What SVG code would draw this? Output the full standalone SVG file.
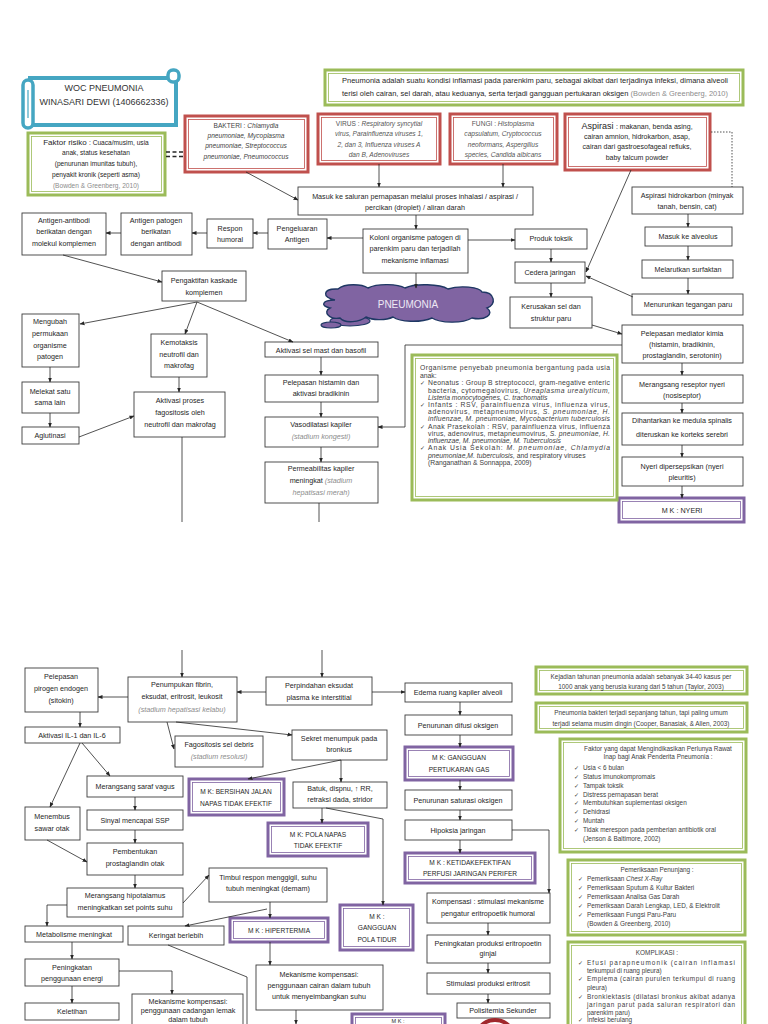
<svg xmlns="http://www.w3.org/2000/svg" width="768" height="1024" viewBox="0 0 768 1024">
<defs>
<style>
.n{fill:#fff;stroke:#3c3c3c;stroke-width:0.9}
.t{font-family:"Liberation Sans",Arial,"DejaVu Sans",sans-serif;font-size:7.2px;fill:#262626;text-anchor:middle}
.st{text-anchor:start}
.sm{font-size:6.6px}
.g{fill:#8c8c8c;font-style:italic}
.gr{fill:#8c8c8c}
.it{font-style:italic}
.l{fill:none;stroke:#262626;stroke-width:0.8}
.a{marker-end:url(#ah)}
.ro{fill:#fff;stroke:#C0504D;stroke-width:3}
.ri{fill:none;stroke:#C0504D;stroke-width:0.8}
.go{fill:#fff;stroke:#9BBB59;stroke-width:3}
.gi{fill:none;stroke:#9BBB59;stroke-width:0.8}
.po{fill:#fff;stroke:#8064A2;stroke-width:3}
.pi{fill:none;stroke:#8064A2;stroke-width:0.8}
.c{font-family:"Liberation Sans",Arial,"DejaVu Sans",sans-serif;font-size:6.4px;fill:#404040}
.o{font-size:6.8px}
.ck{font-family:"DejaVu Sans",sans-serif;font-size:6px;fill:#404040}
</style>
<marker id="ah" viewBox="0 0 10 10" refX="9" refY="5" markerWidth="5" markerHeight="5" markerUnits="userSpaceOnUse" orient="auto"><path d="M0,1 L10,5 L0,9 z" fill="#262626"/></marker>
</defs>
<rect width="768" height="1024" fill="#fff"/>

<g id="title">
<rect x="30" y="78" width="146" height="47" fill="#fff" stroke="#45A6C2" stroke-width="4"/>
<rect x="168" y="70" width="11" height="12" rx="5" fill="#fff" stroke="#45A6C2" stroke-width="3.5"/>
<rect x="23" y="80" width="10" height="48" rx="5" fill="#fff" stroke="#45A6C2" stroke-width="3.5"/>
<line x1="28" y1="90" x2="28" y2="118" stroke="#45A6C2" stroke-width="1.2"/>
<text class="t" x="104" y="91" style="font-size:9px;fill:#333">WOC PNEUMONIA</text>
<text class="t" x="104" y="105" style="font-size:9px;fill:#333">WINASARI DEWI (1406662336)</text>
</g>

<g id="faktor-risiko">
<rect class="go" x="28" y="133" width="137" height="62"/><rect class="gi" x="31.5" y="136.5" width="130" height="55"/>
<text class="t sm" x="96"><tspan x="96" y="145"><tspan style="font-size:8px">Faktor risiko </tspan>: Cuaca/musim, usia</tspan><tspan x="96" y="155">anak, status kesehatan</tspan><tspan x="96" y="166">(penurunan imunitas tubuh),</tspan><tspan x="96" y="177">penyakit kronik (seperti asma)</tspan><tspan x="96" y="188" class="gr">(Bowden &amp; Greenberg, 2010)</tspan></text>
</g>

<g id="definisi">
<rect class="go" x="325" y="70" width="418" height="35"/><rect class="gi" x="328.5" y="73.5" width="411" height="28"/>
<text class="t st" x="342" y="83" textLength="386" lengthAdjust="spacingAndGlyphs">Pneumonia adalah suatu kondisi inflamasi pada parenkim paru, sebagai akibat dari terjadinya infeksi, dimana alveoli</text>
<text class="t st" x="342" y="96" textLength="386" lengthAdjust="spacingAndGlyphs">terisi oleh cairan, sel darah, atau keduanya, serta terjadi gangguan pertukaran oksigen <tspan class="gr">(Bowden &amp; Greenberg, 2010)</tspan></text>
</g>

<g id="bakteri">
<rect class="ro" x="185" y="116" width="123" height="56"/><rect class="ri" x="188.5" y="119.5" width="116" height="49"/>
<text class="t sm" style="fill:#444"><tspan x="246" y="128">BAKTERI : <tspan class="it">Chlamydia</tspan></tspan><tspan x="246" y="138" class="it">pneumoniae, Mycoplasma</tspan><tspan x="246" y="148" class="it">pneumoniae, Streptococcus</tspan><tspan x="246" y="159" class="it">pneumoniae, Pneumococcus</tspan></text>
</g>

<g id="virus">
<rect class="ro" x="318" y="114" width="122" height="50"/><rect class="ri" x="321.5" y="117.5" width="115" height="43"/>
<text class="t sm" style="fill:#555"><tspan x="379" y="126">VIRUS : <tspan class="it">Respiratory syncytial</tspan></tspan><tspan x="379" y="136" class="it">virus, Parainfluenza viruses 1,</tspan><tspan x="379" y="147" class="it">2, dan 3, Influenza viruses A</tspan><tspan x="379" y="157" class="it">dan B, Adenoviruses</tspan></text>
</g>

<g id="fungi">
<rect class="ro" x="450" y="114" width="107" height="50"/><rect class="ri" x="453.5" y="117.5" width="100" height="43"/>
<text class="t sm" style="fill:#555"><tspan x="503" y="126">FUNGI : <tspan class="it">Histoplasma</tspan></tspan><tspan x="503" y="136" class="it">capsulatum, Cryptococcus</tspan><tspan x="503" y="147" class="it">neoformans, Aspergillus</tspan><tspan x="503" y="157" class="it">species, Candida albicans</tspan></text>
</g>

<g id="aspirasi">
<rect class="ro" x="565" y="114" width="145" height="56"/><rect class="ri" x="568.5" y="117.5" width="138" height="49"/>
<text class="t" style="font-size:7px"><tspan x="637" y="129"><tspan style="font-size:9px">Aspirasi </tspan>: makanan, benda asing,</tspan><tspan x="637" y="139">cairan amnion, hidrokarbon, asap,</tspan><tspan x="637" y="149">cairan dari gastroesofageal refluks,</tspan><tspan x="637" y="160">baby talcum powder</tspan></text>
</g>

<g id="masuk-saluran"><rect class="n" x="298" y="187" width="235" height="28"/>
<text class="t"><tspan x="415" y="199">Masuk ke saluran pernapasan melalui proses inhalasi / aspirasi /</tspan><tspan x="415" y="210">percikan (droplet) / aliran darah</tspan></text></g>

<g id="aspirasi-hidrokarbon"><rect class="n" x="632" y="187" width="111" height="27"/>
<text class="t"><tspan x="687" y="198">Aspirasi hidrokarbon (minyak</tspan><tspan x="687" y="209">tanah, bensin, cat)</tspan></text></g>

<g id="koloni"><rect class="n" x="363" y="229" width="105" height="44"/>
<text class="t"><tspan x="415" y="240">Koloni organisme patogen di</tspan><tspan x="415" y="251">parenkim paru dan terjadilah</tspan><tspan x="415" y="263">mekanisme inflamasi</tspan></text></g>

<g id="pengeluaran-antigen"><rect class="n" x="268" y="219" width="59" height="30"/>
<text class="t"><tspan x="297" y="231">Pengeluaran</tspan><tspan x="297" y="242">Antigen</tspan></text></g>

<g id="respon-humoral"><rect class="n" x="207" y="219" width="46" height="29"/>
<text class="t"><tspan x="230" y="231">Respon</tspan><tspan x="230" y="242">humoral</tspan></text></g>

<g id="antigen-patogen"><rect class="n" x="121" y="213" width="71" height="42"/>
<text class="t"><tspan x="156" y="223">Antigen patogen</tspan><tspan x="156" y="234">berikatan</tspan><tspan x="156" y="246">dengan antibodi</tspan></text></g>

<g id="antigen-antibodi"><rect class="n" x="22" y="213" width="84" height="42"/>
<text class="t"><tspan x="64" y="223">Antigen-antibodi</tspan><tspan x="64" y="234">berikatan dengan</tspan><tspan x="64" y="246">molekul komplemen</tspan></text></g>

<g id="produk-toksik"><rect class="n" x="515" y="229" width="72" height="20"/>
<text class="t" x="551" y="241">Produk toksik</text></g>

<g id="cedera"><rect class="n" x="515" y="262" width="70" height="21"/>
<text class="t" x="550" y="275">Cedera jaringan</text></g>

<g id="kerusakan"><rect class="n" x="510" y="297" width="82" height="31"/>
<text class="t"><tspan x="551" y="309">Kerusakan sel dan</tspan><tspan x="551" y="321">struktur paru</tspan></text></g>

<g id="alveolus"><rect class="n" x="645" y="227" width="87" height="19"/>
<text class="t" x="688" y="239">Masuk ke alveolus</text></g>

<g id="surfaktan"><rect class="n" x="642" y="260" width="91" height="18"/>
<text class="t" x="688" y="272">Melarutkan surfaktan</text></g>

<g id="tegangan"><rect class="n" x="632" y="294" width="111" height="21"/>
<text class="t" x="688" y="307">Menurunkan tegangan paru</text></g>

<g id="mediator"><rect class="n" x="622" y="325" width="121" height="38"/>
<text class="t"><tspan x="682" y="336">Pelepasan mediator kimia</tspan><tspan x="682" y="347">(histamin, bradikinin,</tspan><tspan x="682" y="358">prostaglandin, serotonin)</tspan></text></g>

<g id="reseptor"><rect class="n" x="622" y="375" width="121" height="28"/>
<text class="t"><tspan x="682" y="387">Merangsang reseptor nyeri</tspan><tspan x="682" y="398">(nosiseptor)</tspan></text></g>

<g id="dihantarkan"><rect class="n" x="622" y="413" width="121" height="32"/>
<text class="t"><tspan x="682" y="423">Dihantarkan ke medula spinalis</tspan><tspan x="682" y="437">diteruskan ke korteks serebri</tspan></text></g>

<g id="nyeri"><rect class="n" x="622" y="457" width="121" height="29"/>
<text class="t"><tspan x="682" y="469">Nyeri dipersepsikan (nyeri</tspan><tspan x="682" y="480">pleuritis)</tspan></text></g>

<g id="mk-nyeri">
<rect class="po" x="619" y="498" width="125" height="24"/><rect class="pi" x="622.5" y="501.5" width="118" height="17"/>
<text class="t" x="682" y="513">M K : NYERI</text></g>

<g id="pneumonia">
<ellipse cx="350" cy="321" rx="20" ry="5" fill="#8064A2" stroke="#1F3864" stroke-width="1.2"/>
<ellipse cx="331" cy="325" rx="10" ry="3" fill="#8064A2" stroke="#1F3864" stroke-width="1.2"/>
<path d="M335,300 C322,298 322,288 338,289 C345,283 362,284 368,288 C378,283 398,284 405,288 C415,283 440,284 448,289 C460,285 480,287 482,292 C495,292 497,305 487,308 C495,314 485,321 472,318 C462,324 440,323 432,318 C420,323 400,322 393,317 C385,321 372,320 366,317 C360,322 345,324 340,318 C330,320 322,312 330,308 C320,306 322,300 335,300 Z" fill="#8064A2" stroke="#1F3864" stroke-width="1.4"/>
<text class="t" x="408" y="308" style="font-size:10px;fill:#EEE8F5">PNEUMONIA</text>
</g>

<g id="pengaktifan"><rect class="n" x="162" y="271" width="84" height="30"/>
<text class="t"><tspan x="204" y="283">Pengaktifan kaskade</tspan><tspan x="204" y="295">komplemen</tspan></text></g>

<g id="mengubah"><rect class="n" x="22" y="314" width="57" height="53"/>
<text class="t"><tspan x="50" y="324">Mengubah</tspan><tspan x="50" y="336">permukaan</tspan><tspan x="50" y="348">organisme</tspan><tspan x="50" y="359">patogen</tspan></text></g>

<g id="melekat"><rect class="n" x="22" y="382" width="57" height="31"/>
<text class="t"><tspan x="50" y="394">Melekat satu</tspan><tspan x="50" y="405">sama lain</tspan></text></g>

<g id="aglutinasi"><rect class="n" x="22" y="427" width="57" height="17"/>
<text class="t" x="50" y="438">Aglutinasi</text></g>

<g id="kemotaksis"><rect class="n" x="151" y="334" width="56" height="43"/>
<text class="t"><tspan x="179" y="345">Kemotaksis</tspan><tspan x="179" y="357">neutrofil dan</tspan><tspan x="179" y="368">makrofag</tspan></text></g>

<g id="fagositosis"><rect class="n" x="134" y="392" width="91" height="45"/>
<text class="t"><tspan x="180" y="403">Aktivasi proses</tspan><tspan x="180" y="415">fagositosis oleh</tspan><tspan x="180" y="427">neutrofil dan makrofag</tspan></text></g>

<g id="sel-mast"><rect class="n" x="265" y="342" width="113" height="15"/>
<text class="t" x="321" y="352.5">Aktivasi sel mast dan basofil</text></g>

<g id="histamin"><rect class="n" x="265" y="375" width="113" height="27"/>
<text class="t"><tspan x="321" y="385">Pelepasan histamin dan</tspan><tspan x="321" y="396">aktivasi bradikinin</tspan></text></g>

<g id="vasodilatasi"><rect class="n" x="265" y="417" width="113" height="30"/>
<text class="t"><tspan x="321" y="427">Vasodilatasi kapiler</tspan><tspan x="321" y="439" class="g">(stadium kongesti)</tspan></text></g>

<g id="permeabilitas"><rect class="n" x="265" y="462" width="113" height="41"/>
<text class="t"><tspan x="321" y="471">Permeabilitas kapiler</tspan><tspan x="321" y="483">meningkat <tspan class="g">(stadium</tspan></tspan><tspan x="321" y="495" class="g">hepatisasi merah)</tspan></text></g>

<g id="organisme">
<rect class="go" x="412" y="355" width="205" height="145"/><rect class="gi" x="415.5" y="358.5" width="198" height="138"/>
<text class="c o" x="420" y="370" textLength="190" lengthAdjust="spacing">Organisme penyebab pneumonia bergantung pada usia</text>
<text class="c o" x="420" y="378">anak:</text>
<text class="ck" x="420" y="385">✓</text>
<text class="c o" x="428" y="385" textLength="182" lengthAdjust="spacing">Neonatus : Group B streptococci, gram-negative enteric</text>
<text class="c o" x="428" y="393" textLength="182" lengthAdjust="spacing">bacteria, cytomegalovirus, <tspan class="it">Ureaplasma urealyticum,</tspan></text>
<text class="c o it" x="428" y="400">Listeria monocytogenes, C. trachomatis</text>
<text class="ck" x="420" y="407">✓</text>
<text class="c o" x="428" y="407" textLength="182" lengthAdjust="spacing">Infants : RSV, parainfluenza virus, influenza virus,</text>
<text class="c o" x="428" y="414" textLength="182" lengthAdjust="spacing">adenovirus, metapneumovirus, <tspan class="it">S. pneumoniae, H.</tspan></text>
<text class="c o it" x="428" y="421" textLength="182" lengthAdjust="spacing">influenzae, M. pneumoniae, Mycobacterium tuberculosis</text>
<text class="ck" x="420" y="429">✓</text>
<text class="c o" x="428" y="429" textLength="182" lengthAdjust="spacing">Anak Prasekolah : RSV, parainfluenza virus, influenza</text>
<text class="c o" x="428" y="436" textLength="182" lengthAdjust="spacing">virus, adenovirus, metapneumovirus, <tspan class="it">S. pneumoniae, H.</tspan></text>
<text class="c o it" x="428" y="443">influenzae, M. pneumoniae, M. Tuberculosis</text>
<text class="ck" x="420" y="450">✓</text>
<text class="c o" x="428" y="450" textLength="182" lengthAdjust="spacing">Anak Usia Sekolah: <tspan class="it">M. pneumoniae, Chlamydia</tspan></text>
<text class="c o" x="428" y="458"><tspan class="it">pneumoniae,M. tuberculosis,</tspan> and respiratory viruses</text>
<text class="c o" x="428" y="465">(Ranganathan &amp; Sonnappa, 2009)</text>
</g>

<!-- bottom page -->
<g id="pirogen"><rect class="n" x="25" y="668" width="73" height="44"/>
<text class="t"><tspan x="61" y="679">Pelepasan</tspan><tspan x="61" y="691">pirogen endogen</tspan><tspan x="61" y="703">(sitokin)</tspan></text></g>

<g id="penumpukan"><rect class="n" x="128" y="677" width="109" height="45"/>
<text class="t"><tspan x="182" y="687">Penumpukan fibrin,</tspan><tspan x="182" y="699">eksudat, eritrosit, leukosit</tspan><tspan x="182" y="712" class="g">(stadium hepatisasi kelabu)</tspan></text></g>

<g id="il"><rect class="n" x="25" y="727" width="95" height="16"/>
<text class="t" x="72" y="738">Aktivasi IL-1 dan IL-6</text></g>

<g id="debris"><rect class="n" x="175" y="736" width="88" height="31"/>
<text class="t"><tspan x="219" y="747">Fagositosis sel debris</tspan><tspan x="219" y="759" class="g">(stadium resolusi)</tspan></text></g>

<g id="vagus"><rect class="n" x="87" y="776" width="96" height="21"/>
<text class="t" x="135" y="789">Merangsang saraf vagus</text></g>

<g id="ssp"><rect class="n" x="87" y="810" width="96" height="20"/>
<text class="t" x="135" y="823">Sinyal mencapai SSP</text></g>

<g id="sawar"><rect class="n" x="25" y="807" width="55" height="33"/>
<text class="t"><tspan x="52" y="819">Menembus</tspan><tspan x="52" y="831">sawar otak</tspan></text></g>

<g id="mk-bersihan">
<rect class="po" x="189" y="779" width="95" height="36"/><rect class="pi" x="192.5" y="782.5" width="88" height="29"/>
<text class="t sm"><tspan x="236" y="794">M K: BERSIHAN JALAN</tspan><tspan x="236" y="806">NAPAS TIDAK EFEKTIF</tspan></text></g>

<g id="perpindahan"><rect class="n" x="266" y="677" width="106" height="28"/>
<text class="t"><tspan x="319" y="688">Perpindahan eksudat</tspan><tspan x="319" y="700">plasma ke interstitial</tspan></text></g>

<g id="edema"><rect class="n" x="405" y="683" width="107" height="19"/>
<text class="t" x="458" y="695">Edema ruang kapiler alveoli</text></g>

<g id="difusi"><rect class="n" x="405" y="715" width="107" height="20"/>
<text class="t" x="458" y="728">Penurunan difusi oksigen</text></g>

<g id="mk-gas">
<rect class="po" x="405" y="747" width="108" height="33"/><rect class="pi" x="408.5" y="750.5" width="101" height="26"/>
<text class="t sm"><tspan x="459" y="760">M K: GANGGUAN</tspan><tspan x="459" y="772">PERTUKARAN GAS</tspan></text></g>

<g id="saturasi"><rect class="n" x="405" y="790" width="107" height="20"/>
<text class="t" x="458" y="803">Penurunan saturasi oksigen</text></g>

<g id="hipoksia"><rect class="n" x="405" y="820" width="107" height="20"/>
<text class="t" x="458" y="833">Hipoksia jaringan</text></g>

<g id="sekret"><rect class="n" x="292" y="730" width="95" height="30"/>
<text class="t"><tspan x="339" y="741">Sekret menumpuk pada</tspan><tspan x="339" y="752">bronkus</tspan></text></g>

<g id="batuk"><rect class="n" x="293" y="782" width="94" height="26"/>
<text class="t"><tspan x="340" y="791">Batuk, dispnu, ↑ RR,</tspan><tspan x="340" y="802">retraksi dada, stridor</tspan></text></g>

<g id="mk-pola-napas">
<rect class="po" x="268" y="823" width="100" height="33"/><rect class="pi" x="271.5" y="826.5" width="93" height="26"/>
<text class="t sm"><tspan x="318" y="837">M K: POLA NAPAS</tspan><tspan x="318" y="848">TIDAK EFEKTIF</tspan></text></g>

<g id="mk-pola-tidur">
<rect class="po" x="340" y="905" width="73" height="45"/><rect class="pi" x="343.5" y="908.5" width="66" height="38"/>
<text class="t sm"><tspan x="377" y="919">M K :</tspan><tspan x="377" y="930">GANGGUAN</tspan><tspan x="377" y="942">POLA TIDUR</tspan></text></g>

<g id="kejadian">
<rect class="go" x="536" y="667" width="211" height="27"/><rect class="gi" x="539.5" y="670.5" width="204" height="20"/>
<text class="c" style="text-anchor:middle"><tspan x="641" y="679">Kejadian tahunan pneumonia adalah sebanyak 34-40 kasus per</tspan><tspan x="641" y="689">1000 anak yang berusia kurang dari 5 tahun  (Taylor, 2003)</tspan></text></g>

<g id="bakteri-musim">
<rect class="go" x="536" y="703" width="211" height="29"/><rect class="gi" x="539.5" y="706.5" width="204" height="22"/>
<text class="c" style="text-anchor:middle"><tspan x="641" y="715">Pneumonia bakteri terjadi sepanjang tahun, tapi paling umum</tspan><tspan x="641" y="726">terjadi selama musim dingin (Cooper, Banasiak, &amp; Allen, 2003)</tspan></text></g>

<g id="rawat-inap">
<rect class="go" x="560" y="739" width="186" height="113"/><rect class="gi" x="563.5" y="742.5" width="179" height="106"/>
<text class="c" style="text-anchor:middle"><tspan x="658" y="751">Faktor yang dapat Mengindikasikan Perlunya Rawat</tspan><tspan x="658" y="759">Inap bagi Anak Penderita Pneumonia :</tspan></text>
<text class="ck"><tspan x="574" y="770">✓</tspan><tspan x="574" y="779">✓</tspan><tspan x="574" y="788">✓</tspan><tspan x="574" y="797">✓</tspan><tspan x="574" y="805">✓</tspan><tspan x="574" y="814">✓</tspan><tspan x="574" y="823">✓</tspan><tspan x="574" y="832">✓</tspan></text>
<text class="c"><tspan x="583" y="770">Usia &lt; 6 bulan</tspan><tspan x="583" y="779">Status imunokompromais</tspan><tspan x="583" y="788">Tampak toksik</tspan><tspan x="583" y="797">Distress pernapasan berat</tspan><tspan x="583" y="805">Membutuhkan suplementasi oksigen</tspan><tspan x="583" y="814">Dehidrasi</tspan><tspan x="583" y="823">Muntah</tspan><tspan x="583" y="832">Tidak merespon pada pemberian antibiotik oral</tspan><tspan x="583" y="841">(Jenson &amp; Baltimore, 2002)</tspan></text>
</g>

<g id="penunjang">
<rect class="go" x="568" y="860" width="177" height="75"/><rect class="gi" x="571.5" y="863.5" width="170" height="68"/>
<text class="c" style="text-anchor:middle" x="657" y="872">Pemeriksaan Penunjang :</text>
<text class="ck"><tspan x="578" y="881">✓</tspan><tspan x="578" y="890">✓</tspan><tspan x="578" y="899">✓</tspan><tspan x="578" y="908">✓</tspan><tspan x="578" y="917">✓</tspan></text>
<text class="c"><tspan x="587" y="881">Pemeriksaan <tspan class="it">Chest X-Ray</tspan></tspan><tspan x="587" y="890">Pemeriksaan Sputum &amp; Kultur Bakteri</tspan><tspan x="587" y="899">Pemeriksaan Analisa Gas Darah</tspan><tspan x="587" y="908">Pemeriksaan Darah Lengkap, LED, &amp; Elektrolit</tspan><tspan x="587" y="917">Pemeriksaan Fungsi Paru-Paru</tspan><tspan x="587" y="926">(Bowden &amp; Greenberg, 2010)</tspan></text>
</g>

<g id="komplikasi">
<rect class="go" x="568" y="942" width="177" height="95"/><rect class="gi" x="571.5" y="945.5" width="170" height="88"/>
<text class="c" style="text-anchor:middle" x="657" y="955">KOMPLIKASI :</text>
<text class="ck"><tspan x="578" y="965">✓</tspan><tspan x="578" y="981">✓</tspan><tspan x="578" y="999">✓</tspan><tspan x="578" y="1022">✓</tspan></text>
<text class="c" x="587" y="965" textLength="148" lengthAdjust="spacing">Efusi parapneumonik (cairan inflamasi</text>
<text class="c" x="587" y="973">terkumpul di ruang pleura)</text>
<text class="c" x="587" y="981" textLength="148" lengthAdjust="spacing">Empiema (cairan purulen terkumpul di ruang</text>
<text class="c" x="587" y="990">pleura)</text>
<text class="c" x="587" y="999" textLength="148" lengthAdjust="spacing">Bronkiektasis (dilatasi bronkus akibat adanya</text>
<text class="c" x="587" y="1007" textLength="148" lengthAdjust="spacing">jaringan parut pada saluran respiratori dan</text>
<text class="c" x="587" y="1015">parenkim paru)</text>
<text class="c" x="587" y="1022">Infeksi berulang</text>
</g>

<g id="pembentukan"><rect class="n" x="87" y="843" width="96" height="32"/>
<text class="t"><tspan x="135" y="854">Pembentukan</tspan><tspan x="135" y="866">prostaglandin otak</tspan></text></g>

<g id="hipotalamus"><rect class="n" x="67" y="888" width="116" height="29"/>
<text class="t"><tspan x="125" y="898">Merangsang hipotalamus</tspan><tspan x="125" y="910">meningkatkan set points suhu</tspan></text></g>

<g id="demam"><rect class="n" x="209" y="868" width="118" height="34"/>
<text class="t"><tspan x="268" y="880">Timbul respon menggigil, suhu</tspan><tspan x="268" y="891">tubuh meningkat (demam)</tspan></text></g>

<g id="metabolisme"><rect class="n" x="25" y="926" width="98" height="16"/>
<text class="t" x="74" y="937">Metabolisme meningkat</text></g>

<g id="keringat"><rect class="n" x="128" y="926" width="96" height="19"/>
<text class="t" x="176" y="938">Keringat berlebih</text></g>

<g id="mk-hipertermia">
<rect class="po" x="230" y="918" width="98" height="24"/><rect class="pi" x="233.5" y="921.5" width="91" height="17"/>
<text class="t sm" x="279" y="933">M K : HIPERTERMIA</text></g>

<g id="kompensasi-cairan"><rect class="n" x="256" y="965" width="127" height="45"/>
<text class="t"><tspan x="319" y="977">Mekanisme kompensasi:</tspan><tspan x="319" y="988">penggunaan cairan dalam tubuh</tspan><tspan x="319" y="999">untuk menyeimbangkan suhu</tspan></text></g>

<g id="energi"><rect class="n" x="25" y="959" width="94" height="27"/>
<text class="t"><tspan x="72" y="970">Peningkatan</tspan><tspan x="72" y="981">penggunaan energi</tspan></text></g>

<g id="keletihan"><rect class="n" x="25" y="1003" width="94" height="17"/>
<text class="t" x="72" y="1014">Keletihan</text></g>

<g id="kompensasi-lemak"><rect class="n" x="132" y="994" width="111" height="40"/>
<text class="t"><tspan x="188" y="1004">Mekanisme kompensasi:</tspan><tspan x="188" y="1013">penggunaan cadangan lemak</tspan><tspan x="188" y="1022">dalam tubuh</tspan></text></g>

<g id="mk-perfusi">
<rect class="po" x="405" y="853" width="130" height="30"/><rect class="pi" x="408.5" y="856.5" width="123" height="23"/>
<text class="t sm"><tspan x="470" y="865">M K : KETIDAKEFEKTIFAN</tspan><tspan x="470" y="876">PERFUSI JARINGAN PERIFER</tspan></text></g>

<g id="kompensasi-eritro"><rect class="n" x="427" y="893" width="123" height="30"/>
<text class="t"><tspan x="488" y="904">Kompensasi : stimulasi mekanisme</tspan><tspan x="488" y="916">pengatur eritropoetik humoral</tspan></text></g>

<g id="eritropoetin"><rect class="n" x="427" y="935" width="123" height="28"/>
<text class="t"><tspan x="488" y="946">Peningkatan produksi eritropoetin</tspan><tspan x="488" y="956">ginjal</tspan></text></g>

<g id="eritrosit"><rect class="n" x="427" y="973" width="123" height="21"/>
<text class="t" x="488" y="986">Stimulasi produksi eritrosit</text></g>

<g id="polisitemia"><rect class="n" x="457" y="1003" width="93" height="15"/>
<text class="t" x="503" y="1013">Polisitemia Sekunder</text></g>

<g id="mk-bawah">
<rect class="po" x="352" y="1014" width="93" height="22"/><rect class="pi" x="355.5" y="1017.5" width="86" height="15"/>
<text class="t" x="398" y="1022.5" style="font-size:5.5px">M K :</text></g>

<g id="lingkaran">
<ellipse cx="495" cy="1032" rx="16" ry="12" fill="#fff" stroke="#A0282D" stroke-width="4"/>
</g>

<g id="connectors">
<line class="l" x1="166" y1="152" x2="184" y2="152" stroke-dasharray="4 2.5" style="stroke-width:1.3"/>
<line class="l" x1="166" y1="156.5" x2="184" y2="156.5" stroke-dasharray="4 2.5" style="stroke-width:1.3"/>
<line class="l a" x1="246" y1="172" x2="298" y2="200"/>
<line class="l a" x1="379" y1="164" x2="379" y2="187"/>
<line class="l a" x1="503" y1="164" x2="503" y2="187"/>
<line class="l a" x1="631" y1="170" x2="586" y2="272"/>
<polyline class="l" points="711,132 732,132 732,187" stroke-dasharray="1.5 1.5"/>
<line class="l a" x1="416" y1="215" x2="416" y2="229"/>
<line class="l a" x1="363" y1="238" x2="327" y2="238"/>
<line class="l a" x1="268" y1="233" x2="253" y2="233"/>
<line class="l a" x1="207" y1="233" x2="192" y2="233"/>
<line class="l a" x1="121" y1="233" x2="106" y2="233"/>
<line class="l a" x1="468" y1="240" x2="515" y2="240"/>
<line class="l a" x1="416" y1="273" x2="416" y2="288"/>
<line class="l a" x1="551" y1="249" x2="551" y2="262"/>
<line class="l a" x1="551" y1="283" x2="551" y2="297"/>
<line class="l a" x1="688" y1="214" x2="688" y2="227"/>
<line class="l a" x1="688" y1="246" x2="688" y2="260"/>
<line class="l a" x1="688" y1="278" x2="688" y2="294"/>
<line class="l a" x1="633" y1="297" x2="586" y2="276"/>
<line class="l a" x1="592" y1="325" x2="622" y2="334"/>
<polyline class="l a" points="622,345 405,345 405,427 378,427"/>
<line class="l a" x1="682" y1="363" x2="682" y2="375"/>
<line class="l a" x1="682" y1="403" x2="682" y2="413"/>
<line class="l a" x1="682" y1="445" x2="682" y2="457"/>
<line class="l a" x1="682" y1="486" x2="682" y2="498"/>
<line class="l a" x1="63" y1="255" x2="162" y2="282"/>
<line class="l a" x1="197" y1="302" x2="80" y2="324"/>
<line class="l a" x1="197" y1="302" x2="185" y2="334"/>
<line class="l a" x1="197" y1="302" x2="293" y2="342"/>
<line class="l a" x1="50" y1="367" x2="50" y2="382"/>
<line class="l a" x1="50" y1="413" x2="50" y2="427"/>
<line class="l a" x1="79" y1="437" x2="134" y2="416"/>
<line class="l a" x1="179" y1="377" x2="179" y2="392"/>
<line class="l" x1="182" y1="437" x2="182" y2="522"/>
<line class="l a" x1="321" y1="357" x2="321" y2="375"/>
<line class="l a" x1="321" y1="402" x2="321" y2="417"/>
<line class="l a" x1="321" y1="447" x2="321" y2="462"/>
<line class="l" x1="319" y1="503" x2="319" y2="522"/>

<line class="l a" x1="182" y1="650" x2="182" y2="677"/>
<line class="l a" x1="322" y1="650" x2="322" y2="677"/>
<line class="l a" x1="266" y1="692" x2="237" y2="692"/>
<line class="l a" x1="128" y1="697" x2="98" y2="697"/>
<line class="l a" x1="372" y1="692" x2="405" y2="692"/>
<line class="l a" x1="80" y1="712" x2="80" y2="727"/>
<line class="l a" x1="167" y1="722" x2="174" y2="749"/>
<line class="l a" x1="176" y1="722" x2="292" y2="735"/>
<line class="l a" x1="80" y1="743" x2="50" y2="807"/>
<line class="l a" x1="82" y1="743" x2="110" y2="776"/>
<line class="l a" x1="135" y1="797" x2="135" y2="810"/>
<line class="l a" x1="135" y1="830" x2="135" y2="843"/>
<line class="l a" x1="47" y1="840" x2="87" y2="862"/>
<line class="l a" x1="341" y1="760" x2="248" y2="779"/>
<line class="l a" x1="341" y1="760" x2="341" y2="782"/>
<line class="l a" x1="322" y1="808" x2="322" y2="823"/>
<polyline class="l a" points="326,808 383,819 383,905"/>
<line class="l a" x1="460" y1="702" x2="460" y2="715"/>
<line class="l a" x1="460" y1="735" x2="460" y2="747"/>
<line class="l a" x1="460" y1="780" x2="460" y2="790"/>
<line class="l a" x1="460" y1="810" x2="460" y2="820"/>
<line class="l a" x1="460" y1="840" x2="460" y2="853"/>
<polyline class="l a" points="512,830 549,830 549,893"/>
<line class="l a" x1="488" y1="923" x2="488" y2="935"/>
<line class="l a" x1="488" y1="963" x2="488" y2="973"/>
<line class="l a" x1="488" y1="994" x2="488" y2="1003"/>
<line class="l a" x1="135" y1="875" x2="135" y2="888"/>
<line class="l a" x1="183" y1="903" x2="209" y2="875"/>
<polyline class="l a" points="67,905 47,905 47,926"/>
<line class="l a" x1="270" y1="902" x2="270" y2="918"/>
<line class="l a" x1="267" y1="909" x2="185" y2="926"/>
<line class="l a" x1="270" y1="942" x2="270" y2="965"/>
<polyline class="l" points="168,945 247,977 247,1024"/>
<line class="l a" x1="72" y1="942" x2="72" y2="959"/>
<line class="l a" x1="72" y1="986" x2="72" y2="1003"/>
<polyline class="l a" points="119,971 172,971 172,994"/>
<line class="l a" x1="296" y1="1010" x2="296" y2="1024"/>
</g>
</svg>
